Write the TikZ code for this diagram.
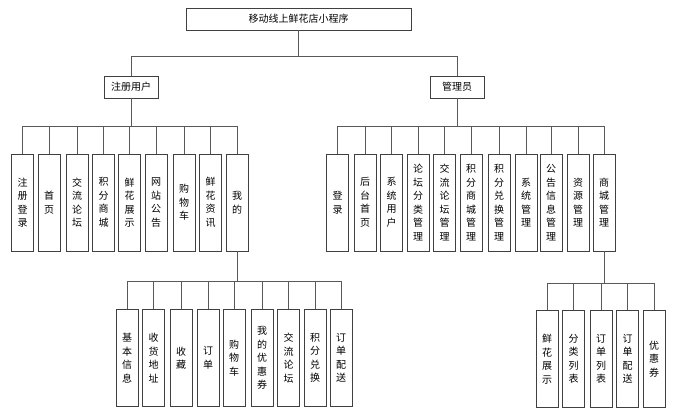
\documentclass[tikz,border=0pt]{standalone}
\usepackage{fontspec}
\setmainfont{Noto Sans CJK SC}
\begin{document}
\begin{tikzpicture}[x=1pt,y=-1pt,
  box/.style={draw=black!75, line width=0.8pt, fill=white, inner sep=0pt, align=center,
    font=\fontsize{10}{13.5}\selectfont},
  hbox/.style={box, minimum height=22pt},
  vbox/.style={box, minimum width=22pt, minimum height=97pt},
  link/.style={draw=black!65, line width=0.8pt}]
\useasboundingbox (0,0) rectangle (678,419);
% level 0 and 1
\node[hbox, minimum width=225pt] (root) at (298.5,19) {移动线上鲜花店小程序};
\node[hbox, minimum width=54pt] (user) at (131,87) {注册用户};
\node[hbox, minimum width=54pt] (admin) at (457,87) {管理员};
\coordinate (b0) at (0,56);
\coordinate (bL) at (0,126);
\coordinate (bR) at (0,126);
\coordinate (bLL) at (0,281);
\coordinate (bRR) at (0,283);
% user children
\node[vbox] (u1) at (22.5,202.5) {注\\册\\登\\录};
\node[vbox] (u2) at (49,202.5) {首\\页};
\node[vbox] (u3) at (77,202.5) {交\\流\\论\\坛};
\node[vbox] (u4) at (103.5,202.5) {积\\分\\商\\城};
\node[vbox] (u5) at (129.5,202.5) {鲜\\花\\展\\示};
\node[vbox] (u6) at (156,202.5) {网\\站\\公\\告};
\node[vbox] (u7) at (184,202.5) {购\\物\\车};
\node[vbox] (u8) at (210.5,202.5) {鲜\\花\\资\\讯};
\node[vbox] (u9) at (237,202.5) {我\\的};
% admin children
\node[vbox] (a1) at (337.5,202.5) {登\\录};
\node[vbox] (a2) at (365,202.5) {后\\台\\首\\页};
\node[vbox] (a3) at (391.5,202.5) {系\\统\\用\\户};
\node[vbox] (a4) at (418,202.5) {论\\坛\\分\\类\\管\\理};
\node[vbox] (a5) at (444.5,202.5) {交\\流\\论\\坛\\管\\理};
\node[vbox] (a6) at (471,202.5) {积\\分\\商\\城\\管\\理};
\node[vbox] (a7) at (499,202.5) {积\\分\\兑\\换\\管\\理};
\node[vbox] (a8) at (526,202.5) {系\\统\\管\\理};
\node[vbox] (a9) at (551,202.5) {公\\告\\信\\息\\管\\理};
\node[vbox] (a10) at (578,202.5) {资\\源\\管\\理};
\node[vbox] (a11) at (604,202.5) {商\\城\\管\\理};
% my children
\node[vbox] (m1) at (127,358) {基\\本\\信\\息};
\node[vbox] (m2) at (153.5,358) {收\\货\\地\\址};
\node[vbox] (m3) at (181,358) {收\\藏};
\node[vbox] (m4) at (208,358) {订\\单};
\node[vbox] (m5) at (234,358) {购\\物\\车};
\node[vbox] (m6) at (262,358) {我\\的\\优\\惠\\券};
\node[vbox] (m7) at (288.5,358) {交\\流\\论\\坛};
\node[vbox] (m8) at (315,358) {积\\分\\兑\\换};
\node[vbox] (m9) at (341,358) {订\\单\\配\\送};
% shop children
\node[vbox] (s1) at (547,359) {鲜\\花\\展\\示};
\node[vbox] (s2) at (573.5,359) {分\\类\\列\\表};
\node[vbox] (s3) at (601,359) {订\\单\\列\\表};
\node[vbox] (s4) at (627.5,359) {订\\单\\配\\送};
\node[vbox] (s5) at (654,359) {优\\惠\\券};
% connectors
\path[link] (root.south) -- (root.south |- b0);
\path[link] (user.north |- b0) -- (admin.north |- b0);
\foreach \c in {user,admin} \path[link] (\c.north) -- (\c.north |- b0);
\path[link] (user.south) -- (user.south |- bL);
\path[link] (u1.north |- bL) -- (u9.north |- bL);
\foreach \c in {u1,u2,u3,u4,u5,u6,u7,u8,u9} \path[link] (\c.north) -- (\c.north |- bL);
\path[link] (admin.south) -- (admin.south |- bR);
\path[link] (a1.north |- bR) -- (a11.north |- bR);
\foreach \c in {a1,a2,a3,a4,a5,a6,a7,a8,a9,a10,a11} \path[link] (\c.north) -- (\c.north |- bR);
\path[link] (u9.south) -- (u9.south |- bLL);
\path[link] (m1.north |- bLL) -- (m9.north |- bLL);
\foreach \c in {m1,m2,m3,m4,m5,m6,m7,m8,m9} \path[link] (\c.north) -- (\c.north |- bLL);
\path[link] (a11.south) -- (a11.south |- bRR);
\path[link] (s1.north |- bRR) -- (s5.north |- bRR);
\foreach \c in {s1,s2,s3,s4,s5} \path[link] (\c.north) -- (\c.north |- bRR);
\end{tikzpicture}
\end{document}
